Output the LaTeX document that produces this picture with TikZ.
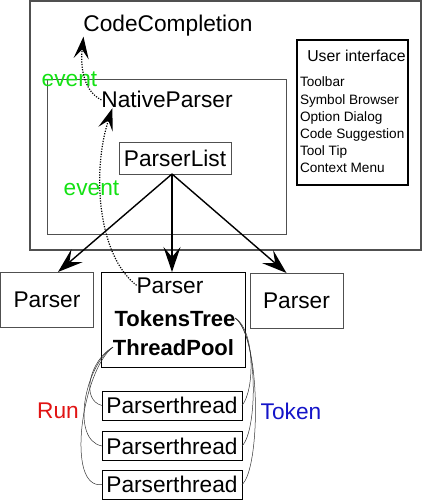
\documentclass[tikz,border=0pt]{standalone}
\usepackage{fontspec}
\setmainfont{Liberation Sans}
\usetikzlibrary{arrows.meta}
\definecolor{eventgreen}{RGB}{20,225,20}
\definecolor{runred}{RGB}{225,20,20}
\definecolor{tokenblue}{RGB}{20,20,200}
\definecolor{framegray}{RGB}{80,80,80}

\begin{document}
\begin{tikzpicture}[x=1pt, y=-1pt, every node/.style={inner sep=0pt, outer sep=0pt},
  big/.style={font=\fontsize{22.7}{26}\selectfont},
  bigbold/.style={font=\fontsize{22}{26}\selectfont\bfseries},
  box/.style={draw=framegray, line width=0.8pt},
  threadbox/.style={draw=black, line width=0.9pt, minimum width=140pt, minimum height=29pt},
  bigarrow/.style={-{Stealth[length=25pt, width=17pt, inset=10pt]}, line width=1.4pt},
  eventarrow/.style={-{Stealth[length=22pt, width=15pt, inset=9pt]}, dash pattern=on 1.2pt off 1.4pt, line width=1.2pt},
  thread/.style={line width=0.5pt, draw=black!80}]

\useasboundingbox (0,0) rectangle (423,500);
\draw[framegray, line width=1.6pt] (30,1) rectangle (421,250);
\draw[framegray, line width=0.9pt] (47,79) rectangle (286,234);

\node[big, anchor=base] (codecompletion) at (168,32) {CodeCompletion};
\node[big, anchor=base] (nativeparser) at (167,108) {NativeParser};
\node[big, box, minimum width=112pt, minimum height=32pt] (parserlist) at (175,158) {ParserList};

\node[draw=black, line width=1.2pt, minimum width=111pt, minimum height=145pt] (userinterface) at (352.5,112.5) {};
\node[anchor=base, font=\fontsize{15.8}{18}\selectfont] (uititle) at (356.5,62) {User interface};
\node[anchor=north west, align=left, font=\fontsize{13.6}{17.2}\selectfont] (uilist) at (300,77)
  {Toolbar\\Symbol Browser\\Option Dialog\\Code Suggestion\\Tool Tip\\Context Menu};

\node[big, anchor=base, text=eventgreen] (event1) at (69.5,87) {event};
\node[big, anchor=base, text=eventgreen] (event2) at (91.5,195) {event};

\node[big, box, minimum width=93pt, minimum height=55pt] (parserleft) at (47,299.5) {Parser};
\node[draw=black, line width=1pt, minimum width=144pt, minimum height=95pt] (parsermid) at (173,319.5) {};
\node[big, anchor=base] (parsertitle) at (170,293) {Parser};
\node[bigbold, anchor=base] (tokenstree) at (175,326) {TokensTree};
\node[bigbold, anchor=base] (threadpool) at (173.5,355) {ThreadPool};
\node[big, box, minimum width=93pt, minimum height=55pt] (parserright) at (296.5,300.5) {Parser};

\node[big, threadbox] (thread1) at (172,405.5) {Parserthread};
\node[big, threadbox] (thread2) at (172,446) {Parserthread};
\node[big, threadbox] (thread3) at (172,484.5) {Parserthread};

\node[big, anchor=base, text=runred] (run) at (58,418) {Run};
\node[big, anchor=base, text=tokenblue] (token) at (291,419) {Token};

\draw[bigarrow] ([xshift=-3pt]parserlist.south) -- ([xshift=11pt]parserleft.north);
\draw[bigarrow] ([xshift=-3pt]parserlist.south) -- ([xshift=-1pt]parsermid.north);
\draw[bigarrow] ([xshift=-3pt]parserlist.south) -- ([xshift=-10pt]parserright.north);

\draw[eventarrow] (parsertitle.west) .. controls (97,255) and (92,170) .. ([xshift=11pt]nativeparser.south west);
\draw[eventarrow] (nativeparser.west) .. controls (85,92) and (80,70) .. (codecompletion.south west);

\draw[thread] (threadpool.west) .. controls (90,360) and (80,400) .. (thread1.west);
\draw[thread] (threadpool.west) .. controls (85,365) and (70,440) .. (thread2.west);
\draw[thread] (threadpool.west) .. controls (82,370) and (65,490) .. (thread3.west);
\draw[thread] (tokenstree.east) .. controls (255,330) and (255,390) .. (thread1.east);
\draw[thread] (tokenstree.east) .. controls (258,335) and (258,430) .. (thread2.east);
\draw[thread] (tokenstree.east) .. controls (262,340) and (260,470) .. (thread3.east);
\end{tikzpicture}
\end{document}
